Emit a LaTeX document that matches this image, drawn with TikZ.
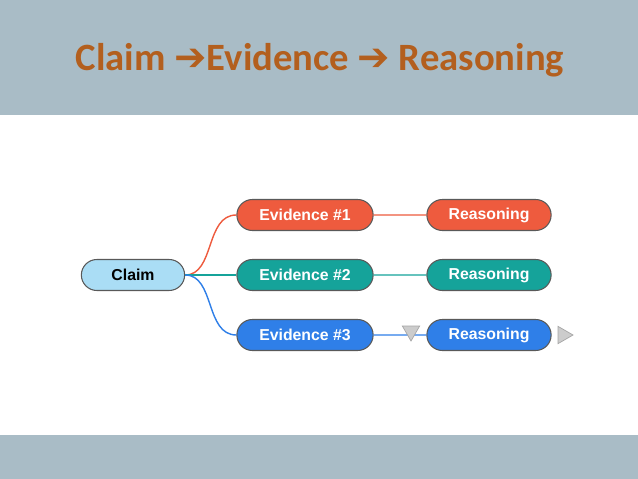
\documentclass[tikz,border=0pt]{standalone}
\usepackage{fontspec}
\setmainfont{Liberation Sans}
\newfontfamily\titlefont{Carlito}
\newfontfamily\arrowfont{DejaVu Sans}
\usetikzlibrary{shapes.geometric,shapes.misc}
\definecolor{bandblue}{HTML}{A9BCC6}
\definecolor{titlebrown}{HTML}{B35F1E}
\definecolor{evred}{HTML}{EE5B3E}
\definecolor{evteal}{HTML}{15A39A}
\definecolor{evblue}{HTML}{2F7FE8}
\definecolor{claimblue}{HTML}{AADDF5}
\tikzset{
  pill/.style={rounded rectangle, draw=black!65, line width=0.6pt, minimum height=0.62cm,
    font=\bfseries\fontsize{9}{10}\selectfont, text=white},
  link/.style={line width=0.8pt},
  marker/.style={isosceles triangle, fill=black!20, draw=black!35, inner sep=0pt,
    minimum size=0.3cm, isosceles triangle apex angle=60},
}
\newcommand{\bigarrow}{{\arrowfont\bfseries ➔}}
\begin{document}
\begin{tikzpicture}[x=0.02cm,y=-0.02cm]
  \useasboundingbox (0,0) rectangle (638,479);
  \fill[bandblue] (0,0) rectangle (638,479);
  \fill[white] (0,115) rectangle (638,435);
  \node (title) at (320,60) {\titlefont\bfseries\fontsize{22}{26}\selectfont\color{titlebrown}Claim \bigarrow Evidence \bigarrow\ Reasoning};

  \node[pill, fill=claimblue, text=black, minimum width=2.3cm] (claim) at (133,275) {Claim};
  \node[pill, fill=evred, minimum width=2.96cm] (ev1) at (305,215) {Evidence \#1};
  \node[pill, fill=evteal, minimum width=2.96cm] (ev2) at (305,275) {Evidence \#2};
  \node[pill, fill=evblue, minimum width=2.96cm] (ev3) at (305,335) {Evidence \#3};
  \node[pill, fill=evred, minimum width=2.72cm] (re1) at (489,215) {Reasoning};
  \node[pill, fill=evteal, minimum width=2.72cm] (re2) at (489,275) {Reasoning};
  \node[pill, fill=evblue, minimum width=2.72cm] (re3) at (489,335) {Reasoning};

  % connectors
  \draw[link, evred] (claim.east) .. controls (215,275) and (205,215) .. (ev1.west);
  \draw[link, evteal] (claim.east) -- (ev2.west);
  \draw[link, evblue] (claim.east) .. controls (215,275) and (205,335) .. (ev3.west);
  \draw[link, evred] (ev1) -- (re1);
  \draw[link, evteal] (ev2) -- (re2);
  \draw[link, evblue] (ev3) -- (re3);

  \node[marker, shape border rotate=-90] (tri1) at (411,331) {};
  \node[marker] (tri2) at (563,335) {};
\end{tikzpicture}
\end{document}
